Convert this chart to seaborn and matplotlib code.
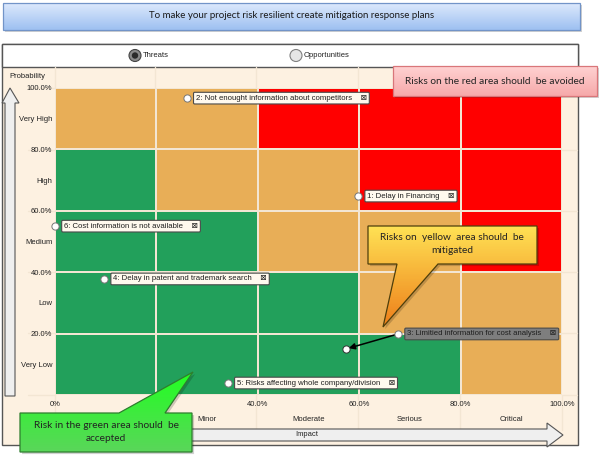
import matplotlib
matplotlib.use("Agg")
import matplotlib.pyplot as plt
import matplotlib.transforms as mtrans
import seaborn as sns
import numpy as np
from matplotlib.colors import ListedColormap, LinearSegmentedColormap
from matplotlib.patches import Rectangle, Polygon, FancyBboxPatch, Circle

# Risk matrix data
impact_levels = ["Insignificant", "Minor", "Moderate", "Serious", "Critical"]
probability_levels = ["Very High", "High", "Medium", "Low", "Very Low"]
impact_ticks = ["0%", "20.0%", "40.0%", "60.0%", "80.0%", "100.0%"]
probability_ticks = ["100.0%", "80.0%", "60.0%", "40.0%", "20.0%", ""]

# 0 = accept (green), 1 = mitigate (orange), 2 = avoid (red); rows top to bottom
zones = [
    [1, 1, 2, 2, 2],
    [0, 1, 1, 2, 2],
    [0, 0, 1, 1, 2],
    [0, 0, 0, 1, 1],
    [0, 0, 0, 0, 1],
]

risk_names = [
    "1: Delay in Financing",
    "2: Not enought information about competitors",
    "3: Limitied information for cost analysis",
    "4: Delay in patent and trademark search",
    "5: Risks affecting whole company/division",
    "6: Cost information is not available",
]
risk_impact = [59.8, 26.0, 57.4, 9.7, 34.1, 0.0]
risk_probability = [64.8, 96.7, 15.0, 37.8, 3.9, 55.0]

GREEN, ORANGE, RED = "#22A05B", "#E8AE57", "#FF0000"
CREAM = "#FDF1E1"
LINE = "#F3E6D3"

sns.set_theme(style="white")
plt.rcParams["font.family"] = ["Liberation Sans", "DejaVu Sans"]

fig = plt.figure(figsize=(6, 4.62), dpi=100)


def pixel_axes(z):
    a = fig.add_axes([0, 0, 1, 1], zorder=z)
    a.set_xlim(0, 600)
    a.set_ylim(462, 0)
    a.axis("off")
    a.patch.set_visible(False)
    return a


def shaded(ax, make_patch, extent, top, bottom, edge, z, lw=0.9, shadow=True):
    if shadow:
        sh = make_patch()
        sh.set(facecolor="#000000", alpha=0.18, edgecolor="none", zorder=z - 0.1,
               transform=mtrans.offset_copy(ax.transData, fig=fig, x=1.5, y=-1.5, units="points"))
        ax.add_patch(sh)
    cmap = LinearSegmentedColormap.from_list("g", [top, bottom])
    fill = make_patch()
    fill.set(facecolor=bottom, edgecolor="none", zorder=z)
    ax.add_patch(fill)
    im = ax.imshow(np.linspace(0, 1, 200).reshape(-1, 1), cmap=cmap,
                   extent=extent, aspect="auto", origin="upper", zorder=z + 0.1)
    im.set_clip_path(fill)
    border = make_patch()
    border.set(facecolor="none", edgecolor=edge, linewidth=lw, zorder=z + 0.2)
    ax.add_patch(border)


bg = pixel_axes(0)

# title bar
shaded(bg, lambda: FancyBboxPatch((3, 3), 577, 27, boxstyle="square,pad=0"),
       (3, 580, 30, 3), "#DDE9FC", "#9DC0F1", "#7294C8", 1)
bg.text(292, 15.5, "To make your project risk resilient create mitigation response plans",
        ha="center", va="center", fontsize=7, family="Lato", color="#1a1a1a", zorder=3)

# main panel
bg.add_patch(Rectangle((2, 44), 576, 401, facecolor=CREAM, edgecolor="#555555", lw=1, zorder=1.5))
bg.add_patch(Rectangle((2, 44), 576, 23, facecolor="white", edgecolor="#555555", lw=1, zorder=1.6))

# radio buttons
bg.add_patch(Circle((135, 55.5), 6, facecolor="#8a8a8a", edgecolor="#444444", lw=0.8, zorder=2))
bg.add_patch(Circle((135, 55.5), 3.2, facecolor="#2a2a2a", edgecolor="none", zorder=2.1))
bg.text(143, 55.5, "Threats", fontsize=5.5, va="center", color="#222222", zorder=2)
bg.add_patch(Circle((296, 55.5), 6, facecolor="#E6E6E6", edgecolor="#808080", lw=0.8, zorder=2))
bg.text(304, 55.5, "Opportunities", fontsize=5.5, va="center", color="#222222", zorder=2)

# faint guide lines outside grid
for xc in [55, 155, 256, 358, 460, 562]:
    bg.plot([xc, xc], [67, 88], color=LINE, lw=1, zorder=1.7)
    bg.plot([xc, xc], [395, 430], color=LINE, lw=1, zorder=1.7)
for yc in [88, 150, 211, 272, 333, 395]:
    bg.plot([28, 55], [yc, yc], color=LINE, lw=1, zorder=1.7)
    bg.plot([562, 577], [yc, yc], color=LINE, lw=1, zorder=1.7)

# probability arrow
bg.add_patch(Polygon([(5, 396), (5, 103), (2, 103), (10, 88), (19, 103), (15, 103), (15, 396)],
                     closed=True, facecolor="#EFEFEF", edgecolor="#555555", lw=0.8, zorder=2))
bg.text(27, 77, "Probability", ha="center", va="center", fontsize=5.5, color="#222222", zorder=2)

# impact arrow
bg.add_patch(Polygon([(60, 429), (547, 429), (547, 423), (563, 435), (547, 447), (547, 441), (60, 441)],
                     closed=True, facecolor="#EFEFEF", edgecolor="#555555", lw=0.8, zorder=2))
bg.text(307, 435, "Impact", ha="center", va="center", fontsize=5.5, color="#222222", zorder=2.1)

# heatmap grid
heat = fig.add_axes([55 / 600, 1 - 395 / 462, 507 / 600, 307 / 462], zorder=1)
sns.heatmap(np.array(zones), cmap=ListedColormap([GREEN, ORANGE, RED]), vmin=-0.5, vmax=2.5,
            cbar=False, linewidths=1.1, linecolor=LINE, xticklabels=False, yticklabels=False, ax=heat)
heat.patch.set_visible(False)

heat.set_xticks(range(6))
heat.set_xticklabels(impact_ticks)
heat.set_xticks(np.arange(5) + 0.5, minor=True)
heat.set_xticklabels(impact_levels, minor=True)
heat.set_yticks(range(6))
heat.set_yticklabels(probability_ticks)
heat.set_yticks(np.arange(5) + 0.5, minor=True)
heat.set_yticklabels(probability_levels, minor=True)
heat.tick_params(axis="both", which="both", length=0, labelsize=5.5, labelcolor="#222222", labelrotation=0)
heat.tick_params(axis="x", which="major", pad=4.5)
heat.tick_params(axis="x", which="minor", pad=15)
heat.tick_params(axis="y", which="both", pad=2)

# risk markers and labels
label_shift = {2: (37.5, 10.8)}
for i, (name, imp, prob) in enumerate(zip(risk_names, risk_impact, risk_probability)):
    x, y = imp / 20, (100 - prob) / 20
    grey = i in label_shift
    if grey:
        dx, dy = label_shift[i]
        heat.annotate("", xy=(x, y), xytext=(dx, dy), textcoords="offset points",
                      arrowprops=dict(arrowstyle="-|>", color="black", lw=1.1, mutation_scale=9,
                                      shrinkA=0, shrinkB=2), zorder=5, annotation_clip=False)
        heat.plot(x, y, "o", ms=5.2, mfc="white", mec="#333333", mew=0.7, zorder=6, clip_on=False)
        tr = mtrans.offset_copy(heat.transData, fig=fig, x=dx, y=dy, units="points")
    else:
        tr = heat.transData
    heat.text(x, y, name + "    \u22a0", transform=mtrans.offset_copy(tr, fig=fig, x=6.5, y=0, units="points"),
              ha="left", va="center", fontsize=5.6, color="#1e1e1e",
              bbox=dict(boxstyle="round,pad=0.3,rounding_size=0.15",
                        fc="#7E7E7E" if grey else "#FFF9EE", ec="#4a4a4a", lw=0.8),
              zorder=7, clip_on=False)
    heat.plot(x, y, "o", ms=5.2, mfc="white", mec="#777777", mew=0.7, zorder=8, clip_on=False, transform=tr)

# callouts
ov = pixel_axes(3)
shaded(ov, lambda: Rectangle((393, 66), 204, 30), (393, 597, 96, 66),
       "#FFD2D2", "#F6A9AA", "#D9767A", 1)
ov.text(495, 81, "Risks on the red area should  be avoided", ha="center", va="center",
        fontsize=7.3, family="Lato", color="#222222", zorder=2)

yellow = [(368, 226), (537, 226), (537, 264), (438, 264), (383, 327), (397, 264), (368, 264)]
shaded(ov, lambda: Polygon(yellow, closed=True), (368, 537, 327, 226),
       "#FFE254", "#EE7E1A", "#4E3F0C", 3)
ov.text(452, 244, "Risks on  yellow  area should  be\nmitigated", ha="center", va="center",
        fontsize=7.3, family="Lato", color="#222222", linespacing=1.45, zorder=4)

green = [(20, 413), (119, 413), (193, 372), (165, 413), (192, 413), (192, 452), (20, 452)]
shaded(ov, lambda: Polygon(green, closed=True), (20, 192, 452, 372),
       "#22FF22", "#5AD65A", "#2E7D2E", 5)
ov.text(106, 432, "Risk in the green area should  be\naccepted", ha="center", va="center",
        fontsize=7.3, family="Lato", color="#222222", linespacing=1.45, zorder=6)

for a in (bg, ov):
    a.set_xlim(0, 600)
    a.set_ylim(462, 0)

fig.savefig("out.png", dpi=100)
